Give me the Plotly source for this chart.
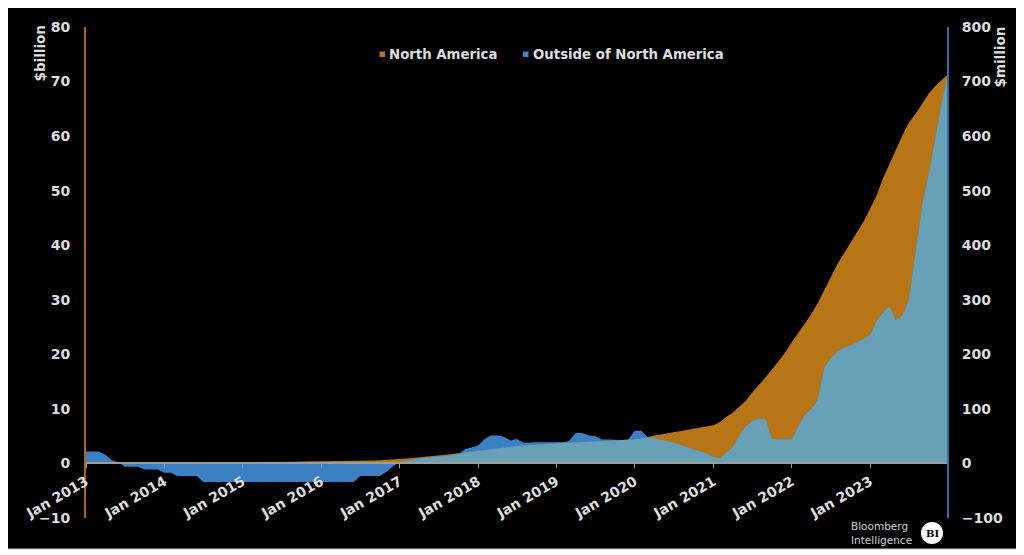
import numpy as np
import pandas as pd
import plotly.graph_objects as go

# ---------------- data ----------------
dates = list(pd.date_range("2013-01-01", "2023-12-01", freq="MS").strftime("%Y-%m-%d")) + ["2023-12-25"]

# North America, $billion (left axis)
north_america = [
    0.05, 0.05, 0.05, 0.05, 0.08, 0.08, 0.1, 0.1, 0.1, 0.12, 0.12, 0.12,      # 2013
    0.15, 0.15, 0.15, 0.18, 0.18, 0.2, 0.2, 0.2, 0.22, 0.22, 0.25, 0.25,      # 2014
    0.25, 0.27, 0.28, 0.3, 0.3, 0.3, 0.32, 0.32, 0.33, 0.34, 0.35, 0.35,      # 2015
    0.36, 0.37, 0.38, 0.4, 0.42, 0.44, 0.46, 0.5, 0.55, 0.6, 0.65, 0.72,      # 2016
    0.8, 0.9, 1.0, 1.1, 1.2, 1.35, 1.5, 1.6, 1.75, 1.9, 2.0, 2.15,            # 2017
    2.3, 2.5, 2.7, 2.85, 3.0, 3.1, 3.2, 3.3, 3.4, 3.5, 3.55, 3.6,             # 2018
    3.75, 3.8, 3.85, 3.9, 3.95, 4.0, 4.05, 4.1, 4.15, 4.2, 4.25, 4.3,         # 2019
    4.4, 4.6, 4.9, 5.1, 5.3, 5.5, 5.7, 5.9, 6.1, 6.3, 6.5, 6.8,               # 2020
    7.0, 7.6, 8.5, 9.3, 10.3, 11.5, 13.0, 14.5, 15.8, 17.2, 18.8, 20.3,       # 2021
    22.2, 24.0, 25.4, 27.3, 29.3, 31.7, 34.1, 36.5, 38.5, 40.4, 42.4, 44.3,   # 2022
    46.7, 49.2, 52.2, 55.0, 57.7, 60.2, 62.5, 64.1, 66.0, 67.8, 69.2, 70.4,   # 2023
    71.2,
]

# Outside of North America, $million (right axis)
outside_na = [
    22, 22, 22, 16, 6, 2, -6, -6, -6, -11, -11, -11,                          # 2013
    -17, -17, -23, -23, -23, -23, -34, -34, -34, -34, -34, -34,               # 2014
    -34, -34, -34, -34, -34, -34, -34, -34, -34, -34, -34, -34,               # 2015
    -34, -34, -34, -34, -34, -34, -23, -23, -23, -23, -15, -5,                # 2016
    2, 5, 7, 9, 10, 11, 12, 13, 15, 17, 26, 29,                               # 2017
    33, 45, 51, 51, 49, 42, 45, 38, 39, 39, 39, 39,                           # 2018
    39, 39, 41, 56, 56, 51, 50, 44, 44, 43, 43, 44,                           # 2019
    60, 60, 48, 46, 44, 41, 38, 34, 30, 26, 22, 18,                           # 2020
    12, 10, 19, 30, 50, 68, 78, 82, 82, 45, 44, 44,                           # 2021
    45, 68, 88, 100, 115, 175, 192, 205, 212, 216, 222, 228,                  # 2022
    236, 262, 276, 288, 262, 272, 300, 385, 475, 530, 600, 662,               # 2023
    705,
]

series_names = ["North America", "Outside of North America"]
left_ticks = list(range(-10, 81, 10))
right_ticks = list(range(-100, 801, 100))

# ---------------- style ----------------
ORANGE = "#b87515"
BLUE = "#3a80c2"
LIGHT_BLUE = "#68a0b8"
TXT = "#dedede"
FONT = "DejaVu Sans"

# page has an 8px body margin; figure sized to fill the rest of the window
OFF = 8
W, H = 1024 - OFF, 555 - OFF
# plot area in screen pixels
SX0, SX1, SY0, SY1 = 86, 947, 27, 518
ML, MR, MT, MB = SX0 - OFF, W - (SX1 - OFF), SY0 - OFF, H - (SY1 - OFF)
PW, PH = SX1 - SX0, SY1 - SY0


def px(x):
    return (x - SX0) / PW


def py(y):
    return (SY1 - y) / PH


# overlap of the two areas (in $million units, since the axes are 10:1)
overlap = np.maximum(0, np.minimum(np.array(outside_na, float), np.array(north_america) * 10))

fig = go.Figure()
fig.add_trace(go.Scatter(
    x=dates, y=north_america, name=series_names[0], yaxis="y",
    mode="lines", line=dict(width=0, color=ORANGE), fill="tozeroy",
    fillcolor=ORANGE, showlegend=False, hoverinfo="skip"))
fig.add_trace(go.Scatter(
    x=dates, y=outside_na, name=series_names[1], yaxis="y2",
    mode="lines", line=dict(width=0, color=BLUE), fill="tozeroy",
    fillcolor=BLUE, showlegend=False, hoverinfo="skip"))
fig.add_trace(go.Scatter(
    x=dates, y=overlap, name="overlap", yaxis="y2",
    mode="lines", line=dict(width=0, color=LIGHT_BLUE), fill="tozeroy",
    fillcolor=LIGHT_BLUE, showlegend=False, hoverinfo="skip"))

tickfont = dict(family=FONT, size=14, color=TXT, weight="bold")

fig.update_layout(
    width=W, height=H,
    margin=dict(l=ML, r=MR, t=MT, b=MB, pad=0),
    paper_bgcolor="white", plot_bgcolor="black",
    showlegend=False,
    xaxis=dict(
        type="date", range=["2013-01-01", "2023-12-25"],
        anchor="free", position=10 / 90,
        showline=True, linecolor="#9c9c9c", linewidth=1.5,
        ticks="outside", ticklen=4, tickcolor="#9c9c9c", tickwidth=1,
        tick0="2013-01-01", dtick="M12", tickformat="%b %Y",
        tickangle=-30, tickfont=tickfont,
        showgrid=False, zeroline=False,
    ),
    yaxis=dict(
        range=[-10, 80], tickvals=left_ticks,
        showline=True, linecolor="#a56c14", linewidth=2,
        ticks="", ticklabelstandoff=11, tickfont=tickfont,
        showgrid=False, zeroline=False,
    ),
    yaxis2=dict(
        range=[-100, 800], tickvals=right_ticks, overlaying="y", side="right",
        showline=True, linecolor="#2f6fa8", linewidth=2,
        ticks="", ticklabelstandoff=10, tickfont=tickfont,
        showgrid=False, zeroline=False,
    ),
)

shapes = [
    # black panel with thin grey frame
    dict(type="rect", xref="paper", yref="paper", layer="below",
         x0=px(7), x1=px(1018), y0=py(549), y1=py(7),
         fillcolor="black", line=dict(color="#c4c4c4", width=1)),
    # legend squares
    dict(type="rect", xref="paper", yref="paper",
         x0=px(379.5), x1=px(385), y0=py(57), y1=py(51.5),
         fillcolor=ORANGE, line=dict(width=0)),
    dict(type="rect", xref="paper", yref="paper",
         x0=px(523), x1=px(528.5), y0=py(57), y1=py(51.5),
         fillcolor=BLUE, line=dict(width=0)),
    # BI logo circle
    dict(type="circle", xref="paper", yref="paper",
         x0=px(921), x1=px(943), y0=py(544), y1=py(522),
         fillcolor="white", line=dict(width=0)),
]

annotations = [
    dict(text=series_names[0], xref="paper", yref="paper", x=px(387), y=py(54.5),
         xanchor="left", yanchor="middle", showarrow=False,
         font=dict(family=FONT, size=13.3, color=TXT, weight="bold")),
    dict(text=series_names[1], xref="paper", yref="paper", x=px(531), y=py(54.5),
         xanchor="left", yanchor="middle", showarrow=False,
         font=dict(family=FONT, size=13.3, color=TXT, weight="bold")),
    dict(text="$billion", xref="paper", yref="paper", x=px(39), y=py(53.5),
         xanchor="center", yanchor="middle", textangle=-90, showarrow=False,
         font=dict(family=FONT, size=13.5, color=TXT, weight="bold")),
    dict(text="$million", xref="paper", yref="paper", x=px(999), y=py(57.5),
         xanchor="center", yanchor="middle", textangle=-90, showarrow=False,
         font=dict(family=FONT, size=13.5, color=TXT, weight="bold")),
    dict(text="Bloomberg<br>Intelligence", xref="paper", yref="paper",
         x=px(914), y=py(533), xanchor="right", yanchor="middle", align="left",
         showarrow=False, font=dict(family=FONT, size=10.5, color="#d0d0d0")),
    dict(text="BI", xref="paper", yref="paper", x=px(932), y=py(533.5),
         xanchor="center", yanchor="middle", showarrow=False,
         font=dict(family="DejaVu Serif", size=10, color="black", weight="bold")),
]

fig.update_layout(shapes=shapes, annotations=annotations)

fig.write_html("out.html")
